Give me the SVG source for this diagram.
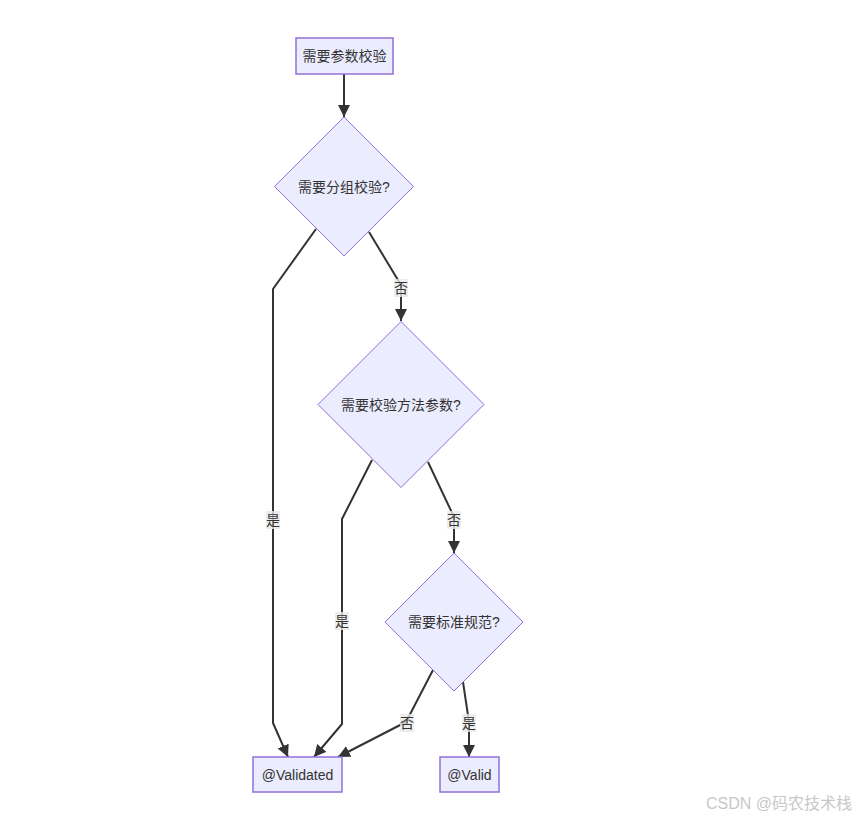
<svg xmlns="http://www.w3.org/2000/svg" width="856" height="818" viewBox="0 0 856 818">
<defs>
<style>
.node{fill:#ECECFF;stroke:#9370DB;stroke-width:1px}
.box{stroke-width:1.5px}
.nt{font-family:"Liberation Sans","Noto Sans CJK SC",sans-serif;font-size:14px;fill:#333333;text-anchor:middle;dominant-baseline:central}
.edge{fill:none;stroke:#333333;stroke-width:2px;stroke-linejoin:round}
.lblbg{fill:#E8E8E8;fill-opacity:0.8}
.wm{font-family:"Liberation Sans","Noto Sans CJK SC",sans-serif;font-size:16px;fill:#C8C8C8;text-anchor:end}
</style>
<marker id="arrow" viewBox="0 0 10 10" refX="10" refY="5" markerUnits="userSpaceOnUse" markerWidth="12" markerHeight="12" orient="auto">
<path d="M0,0 L10,5 L0,10 z" fill="#333333"/>
</marker>
</defs>
<rect width="856" height="818" fill="#ffffff"/>
<g id="connectors">
<path class="edge" d="M344,74 L344,117" marker-end="url(#arrow)"/>
<path class="edge" d="M316,229 L273,289 L273,723 L288,757" marker-end="url(#arrow)"/>
<path class="edge" d="M369,232 L401,285 L401,321" marker-end="url(#arrow)"/>
<path class="edge" d="M372,460 L342,519 L342,724 L314,757" marker-end="url(#arrow)"/>
<path class="edge" d="M428,462 L454,517 L454,553" marker-end="url(#arrow)"/>
<path class="edge" d="M433,670 L406,722 L338,757" marker-end="url(#arrow)"/>
<path class="edge" d="M463,682 L469,722 L469,757" marker-end="url(#arrow)"/>
<g id="edge-labels">
<rect class="lblbg" x="266" y="511" width="14" height="18"/><text class="nt" x="273" y="520">是</text>
<rect class="lblbg" x="394" y="279" width="14" height="18"/><text class="nt" x="401" y="288">否</text>
<rect class="lblbg" x="335" y="612" width="14" height="18"/><text class="nt" x="342" y="621">是</text>
<rect class="lblbg" x="447" y="511" width="14" height="18"/><text class="nt" x="454" y="520">否</text>
<rect class="lblbg" x="400" y="714" width="14" height="18"/><text class="nt" x="407" y="723">否</text>
<rect class="lblbg" x="462" y="714" width="14" height="18"/><text class="nt" x="469" y="723">是</text>
</g>
</g>
<g id="start">
<rect class="node box" x="296" y="38" width="97" height="36"/>
<text class="nt" x="344.5" y="56">需要参数校验</text>
</g>
<g id="q1">
<polygon class="node" points="344,117 413.5,186.5 344,256 274.5,186.5"/>
<text class="nt" x="344" y="186.5">需要分组校验?</text>
</g>
<g id="q2">
<polygon class="node" points="401,321.5 484,404.5 401,487.5 318,404.5"/>
<text class="nt" x="401" y="404.5">需要校验方法参数?</text>
</g>
<g id="q3">
<polygon class="node" points="454,553 523,622 454,691 385,622"/>
<text class="nt" x="454" y="622">需要标准规范?</text>
</g>
<g id="validated">
<rect class="node box" x="253" y="757" width="89" height="35"/>
<text class="nt" x="297.5" y="774.5">@Validated</text>
</g>
<g id="valid">
<rect class="node box" x="440" y="757" width="59" height="35"/>
<text class="nt" x="469.5" y="774.5">@Valid</text>
</g>
<text class="wm" x="852" y="809">CSDN @码农技术栈</text>
</svg>
